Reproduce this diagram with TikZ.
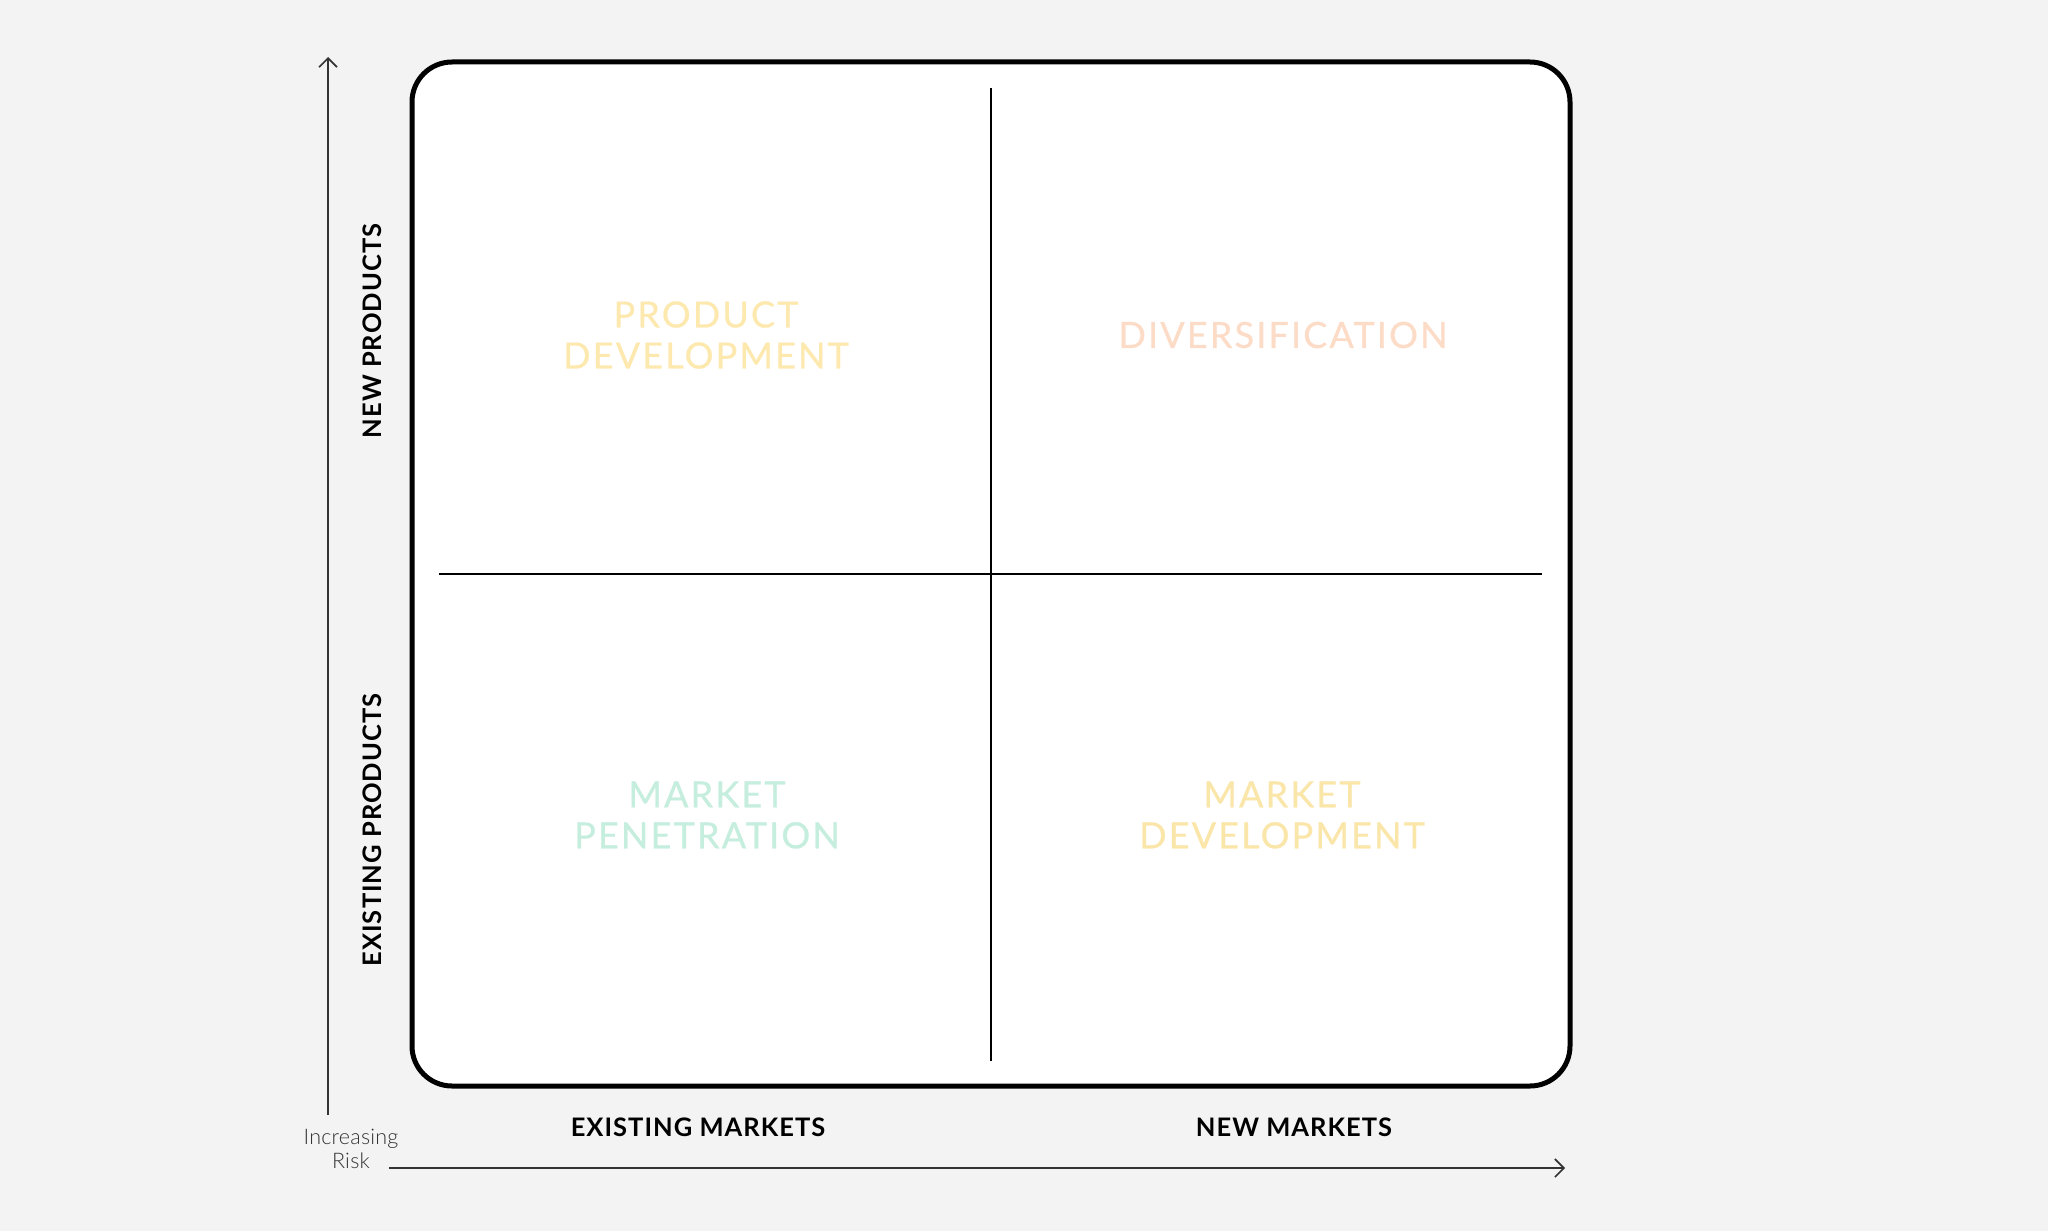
\documentclass[tikz,border=0pt]{standalone}
\usepackage{fontspec}
\setmainfont{Lato}
\newfontfamily\latolight{Lato Light}[LetterSpace=1]
\newfontfamily\quadfont{Lato}[LetterSpace=6, FakeBold=0.6]
\newfontfamily\labfont{Lato Bold}[LetterSpace=4]
\usetikzlibrary{arrows.meta}
\definecolor{bgc}{HTML}{F3F3F3}
\definecolor{cpd}{HTML}{FDE8AE}
\definecolor{cdiv}{HTML}{FDDCC7}
\definecolor{cmp}{HTML}{C6EEDF}
\definecolor{cmd}{HTML}{FBE6AA}
\definecolor{axc}{HTML}{333333}
\tikzset{
  quad/.style={align=center, font=\quadfont\fontsize{36}{41}\selectfont, inner sep=0pt},
  axlab/.style={font=\labfont\fontsize{25.5}{30}\selectfont, text=black, inner sep=0pt},
  riskax/.style={draw=axc, line width=1.6pt, -{Straight Barb[length=9pt,width=18pt,line width=1.6pt]}},
  divider/.style={draw=black, line width=2.6pt},
}
\begin{document}
\begin{tikzpicture}[x=1pt,y=-1pt]
\fill[bgc] (0,0) rectangle (2048,1231);
\useasboundingbox (0,0) rectangle (2048,1231);
\draw[fill=white, line width=5pt, rounded corners=40pt] (412,62) rectangle (1570,1086);
\coordinate (vt) at (991,88);
\coordinate (vb) at (991,1061);
\coordinate (hl) at (439,574);
\coordinate (hr) at (1542,574);
\draw[divider] (vt) -- (vb);
\draw[divider] (hl) -- (hr);
\node[quad, text=cpd] (pd) at (706,335) {PRODUCT\\DEVELOPMENT};
\node[quad, text=cdiv] (div) at (1283,335) {DIVERSIFICATION};
\node[quad, text=cmp] (mp) at (707,815) {MARKET\\PENETRATION};
\node[quad, text=cmd] (md) at (1282,815) {MARKET\\DEVELOPMENT};
\node[axlab, rotate=90] (np) at (372,331) {NEW PRODUCTS};
\node[axlab, rotate=90] (ep) at (372,830) {EXISTING PRODUCTS};
\node[axlab] (em) at (698,1127) {EXISTING MARKETS};
\node[axlab] (nm) at (1294,1127) {NEW MARKETS};
\node[align=center, font=\latolight\fontsize{21.5}{24}\selectfont, text=axc, inner sep=0pt] (risk) at (351,1149) {Increasing\\Risk};
\coordinate (ya) at (328,1115);
\coordinate (yb) at (328,57);
\coordinate (xa) at (389,1168);
\coordinate (xb) at (1565,1168);
\draw[riskax] (ya) -- (yb);
\draw[riskax] (xa) -- (xb);
\end{tikzpicture}
\end{document}
